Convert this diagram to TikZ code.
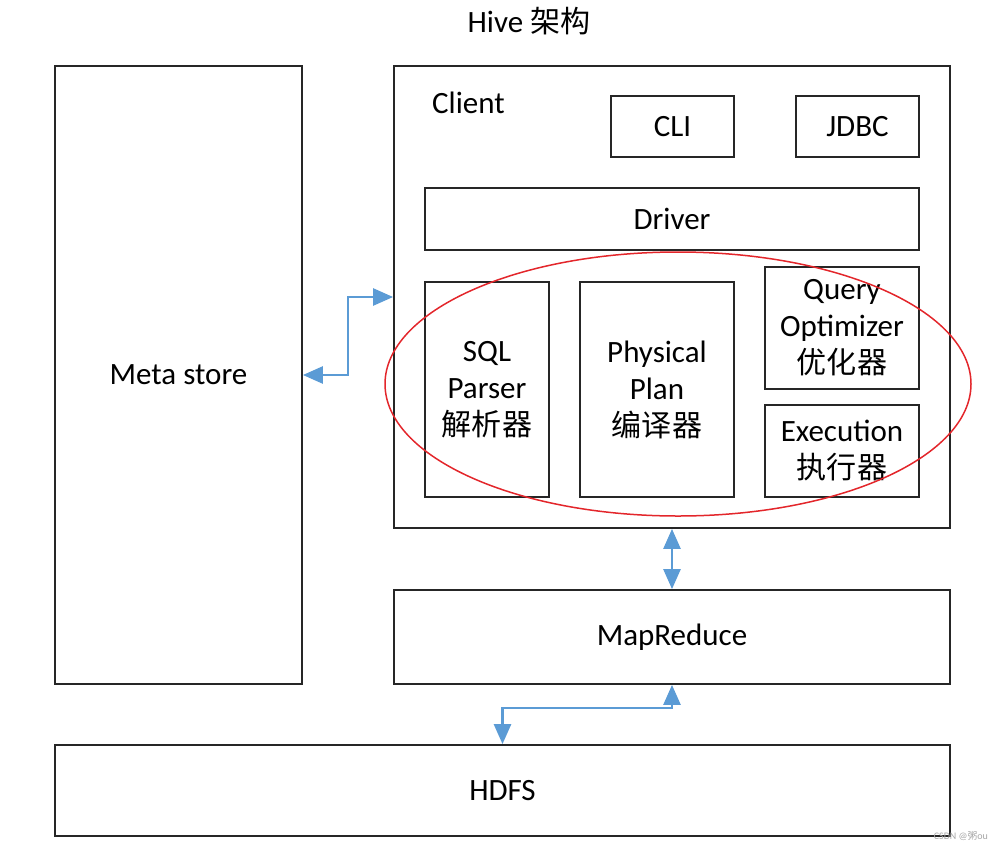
\documentclass[tikz,border=0pt]{standalone}
\usepackage{fontspec}
\setmainfont{Carlito}
\newfontfamily\cjk[Scale=0.97]{Noto Sans CJK SC}
\usetikzlibrary{arrows.meta}
\definecolor{linkblue}{HTML}{5B9BD5}
\definecolor{boxline}{HTML}{262626}
\definecolor{ringred}{HTML}{E3262B}
\begin{document}
\begin{tikzpicture}[x={(1pt,0)},y={(0,-1pt)},
  box/.style={draw=boxline,line width=1.8pt,inner sep=0pt,align=center,
    font=\fontsize{31}{37}\selectfont},
  link/.style={draw=linkblue,line width=2.6pt,
    {Triangle[length=20pt,width=17pt]}-{Triangle[length=20pt,width=17pt]}},
  lbl/.style={inner sep=0pt,font=\fontsize{31}{37}\selectfont}]
\useasboundingbox (0,0) rectangle (991,852);
\node[lbl] (title) at (529,21) {Hive {\cjk 架构}};
\node[box,minimum width=247,minimum height=618] (meta) at (178.5,375) {Meta store};
\node[box,minimum width=556,minimum height=462] (client) at (672,297) {};
\node[lbl,anchor=west] (clientlbl) at (432,103) {Client};
\node[box,minimum width=123,minimum height=61] (cli) at (672.5,126.5) {CLI};
\node[box,minimum width=123,minimum height=61] (jdbc) at (857.5,126.5) {JDBC};
\node[box,minimum width=494,minimum height=62] (driver) at (672,219) {Driver};
\node[box,minimum width=124,minimum height=215] (parser) at (487,389.5) {SQL\\Parser\\{\cjk 解析器}};
\node[box,minimum width=154,minimum height=215] (plan) at (657,389.5) {Physical\\Plan\\{\cjk 编译器}};
\node[box,minimum width=154,minimum height=122] (opt) at (842,328) {Query\\Optimizer\\{\cjk 优化器}};
\node[box,minimum width=154,minimum height=92] (exec) at (842,451) {Execution\\{\cjk 执行器}};
\node[box,minimum width=556,minimum height=94] (mr) at (672,637) {MapReduce};
\node[box,minimum width=895,minimum height=91] (hdfs) at (502.5,790.5) {HDFS};
\draw[ringred,line width=1.5pt] (678,384) ellipse [x radius=293,y radius=132];
\draw[link] (meta.east) -- (348,375) |- (client.west);
\draw[link] (client.south) -- (mr.north);
\draw[link] (mr.south) -- ++(0,23) -| (hdfs.north);
\node[inner sep=0pt,anchor=east,text=black!35,font=\fontsize{10}{12}\selectfont] (mark) at (988,836) {CSDN @{\cjk 粥}ou};
\end{tikzpicture}
\end{document}
